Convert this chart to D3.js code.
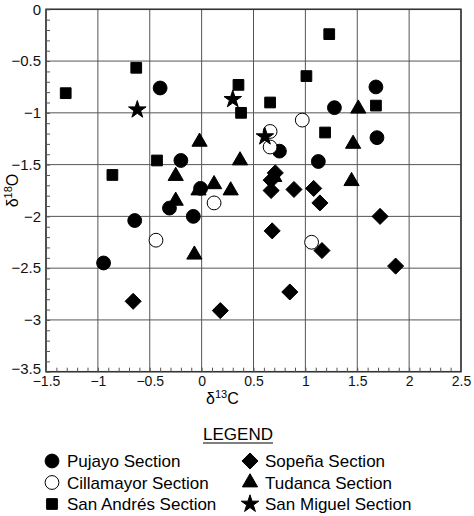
<!DOCTYPE html>
<html><head><meta charset="utf-8">
<script src="https://cdn.jsdelivr.net/npm/d3@7"></script>
<style>body{margin:0;background:#fff}text{font-family:"Liberation Sans",Arial,sans-serif}</style>
</head><body><svg id="c" width="474" height="516"></svg>
<script>
const xTicks=[-1.5,-1,-0.5,0,0.5,1,1.5,2,2.5];
const yTicks=[0,-0.5,-1,-1.5,-2,-2.5,-3,-3.5];
const pujayo=[[-0.40,-0.76],[-0.20,-1.46],[-0.01,-1.73],[-0.31,-1.92],[-0.645,-2.04],[-0.08,-2.0],[-0.945,-2.45],[1.68,-0.75],[1.28,-0.95],[1.69,-1.24],[0.75,-1.37],[1.125,-1.47]];
const cillamayor=[[0.12,-1.87],[-0.44,-2.23],[0.97,-1.07],[0.66,-1.18],[0.66,-1.33],[1.06,-2.25]];
const sanAndres=[[-1.31,-0.81],[-0.63,-0.565],[-0.43,-1.46],[-0.86,-1.6],[0.355,-0.73],[0.38,-1.0],[1.23,-0.24],[1.01,-0.645],[0.66,-0.90],[1.68,-0.93],[1.19,-1.19]];
const sopena=[[-0.66,-2.82],[0.18,-2.91],[0.71,-1.58],[0.67,-1.65],[0.67,-1.75],[0.89,-1.74],[1.08,-1.73],[1.14,-1.87],[1.72,-2.0],[0.68,-2.14],[1.16,-2.33],[1.87,-2.48],[0.85,-2.73]];
const tudanca=[[-0.02,-1.28],[0.37,-1.46],[-0.25,-1.61],[0.12,-1.69],[0.28,-1.75],[-0.03,-1.75],[-0.25,-1.85],[-0.07,-2.37],[1.51,-0.96],[1.46,-1.30],[1.445,-1.66],[0.7,-1.62]];
const sanMiguel=[[-0.62,-0.97],[0.30,-0.87],[0.61,-1.23]];
const series=[
 {name:"Pujayo Section",data:pujayo,sym:d3.symbolCircle,size:150,fill:"#000"},
 {name:"Sopeña Section",data:sopena,sym:d3.symbolDiamond2,size:165,fill:"#000"},
 {name:"Cillamayor Section",data:cillamayor,sym:d3.symbolCircle,size:150,fill:"#fff"},
 {name:"Tudanca Section",data:tudanca,sym:d3.symbolTriangle,size:100,fill:"#000"},
 {name:"San Andrés Section",data:sanAndres,sym:d3.symbolSquare,size:115,fill:"#000"},
 {name:"San Miguel Section",data:sanMiguel,sym:d3.symbolStar,size:95,fill:"#000"}];
const svg=d3.select("#c");
const x=d3.scaleLinear().domain([-1.5,2.5]).range([46,461]);
const y=d3.scaleLinear().domain([-3.5,0]).range([371.7,9.3]);
const g=svg.append("g");
g.selectAll(".vx").data(xTicks).join("line").attr("x1",d=>x(d)).attr("x2",d=>x(d)).attr("y1",y(0)).attr("y2",y(-3.5)).attr("stroke","#555").attr("stroke-width",1);
g.selectAll(".hy").data(yTicks).join("line").attr("y1",d=>y(d)).attr("y2",d=>y(d)).attr("x1",x(-1.5)).attr("x2",x(2.5)).attr("stroke","#555").attr("stroke-width",1);
g.append("rect").attr("x",x(-1.5)).attr("y",y(0)).attr("width",x(2.5)-x(-1.5)).attr("height",y(-3.5)-y(0)).attr("fill","none").attr("stroke","#333").attr("stroke-width",1.5);
const xa=svg.append("g").attr("transform",`translate(0,${y(-3.5)})`).call(d3.axisBottom(x).tickValues(xTicks).tickFormat(d3.format("")).tickSize(0).tickPadding(4));
const xm=svg.append("g").attr("transform",`translate(0,${y(-3.5)})`).call(d3.axisTop(x).ticks(40).tickFormat("").tickSize(4));
const ya=svg.append("g").attr("transform",`translate(${x(-1.5)},0)`).call(d3.axisLeft(y).tickValues(yTicks).tickFormat(d3.format("")).tickSize(0).tickPadding(5));
const ym=svg.append("g").attr("transform",`translate(${x(-1.5)},0)`).call(d3.axisRight(y).ticks(35).tickFormat("").tickSize(4));
[xa,ya,xm,ym].forEach(a=>{a.select(".domain").remove();a.selectAll("text").attr("font-size",15).attr("fill","#111");a.selectAll("line").attr("stroke","#555");});
xa.selectAll("text").attr("font-size",14);
ya.selectAll(".tick").filter(d=>d===-3.5).select("text").attr("dy","0.1em");
const xl=svg.append("text").attr("x",x(0.2)).attr("y",404).attr("text-anchor","middle").attr("font-size",16);
xl.append("tspan").text("δ");xl.append("tspan").attr("font-size",11).attr("dy",-6).text("13");xl.append("tspan").attr("dy",6).text("C");
const yl=svg.append("text").attr("transform",`translate(18,${y(-1.75)}) rotate(-90)`).attr("text-anchor","middle").attr("font-size",16);
yl.append("tspan").text("δ");yl.append("tspan").attr("font-size",11).attr("dy",-6).text("18");yl.append("tspan").attr("dy",6).text("O");
series.forEach(s=>{
 svg.append("g").selectAll("path").data(s.data).join("path")
  .attr("d",d3.symbol().type(s.sym).size(s.size))
  .attr("transform",d=>`translate(${x(d[0])},${y(d[1])})`)
  .attr("fill",s.fill).attr("stroke","#000").attr("stroke-width",1);
});
svg.append("text").attr("x",238).attr("y",440).attr("text-anchor","middle").attr("font-size",17).text("LEGEND");
svg.append("line").attr("x1",203).attr("x2",273).attr("y1",443).attr("y2",443).attr("stroke","#000").attr("stroke-width",1.2);
const lg=svg.append("g");
series.forEach((s,i)=>{
 const col=i%2,row=Math.floor(i/2);
 const mx=col?250:52,my=461+row*21.5;
 lg.append("path").attr("d",d3.symbol().type(s.sym).size(s.size)).attr("transform",`translate(${mx},${my})`).attr("fill",s.fill).attr("stroke","#000");
 lg.append("text").attr("x",mx+15).attr("y",my+6).attr("font-size",17).text(s.name);
});
</script></body></html>
